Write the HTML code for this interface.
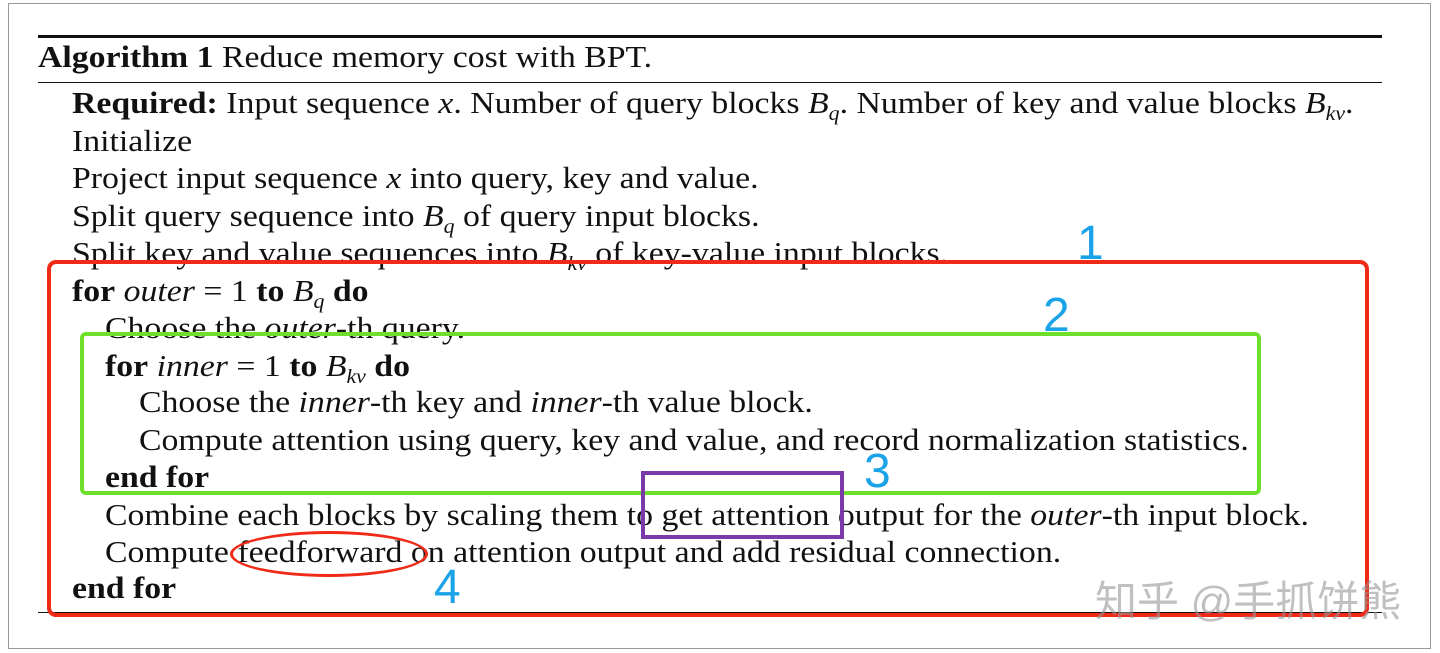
<!DOCTYPE html>
<html><head><meta charset="utf-8"><style>
body{margin:0;width:1440px;height:653px;background:#fff;position:relative;overflow:hidden;font-family:"Liberation Serif",serif;color:#111}
.l{position:absolute;font-size:31px;line-height:34px;white-space:nowrap;transform:scaleX(1.09);transform-origin:0 50%}
i{font-style:italic}
sub{font-size:20px}
.r{position:absolute;background:#111}
.n{position:absolute;color:#1aa3e8;font-family:"Liberation Sans",sans-serif;font-size:48px;line-height:48px}
.box{position:absolute;box-sizing:border-box}
</style></head><body>
<div class="box" style="left:8px;top:3px;width:1423px;height:646px;border:1px solid #999"></div>
<div class="r" style="left:38px;top:35px;width:1344px;height:3px"></div>
<div class="r" style="left:38px;top:82px;width:1344px;height:1px"></div>
<div class="r" style="left:38px;top:612px;width:1344px;height:1px"></div>
<div class="l" style="left:38px;top:40px"><b>Algorithm 1</b> Reduce memory cost with BPT.</div>
<div class="l" style="left:72px;top:86px"><b>Required:</b> Input sequence <i>x</i>. Number of query blocks <i>B<sub>q</sub></i>. Number of key and value blocks <i>B<sub>kv</sub></i>.</div>
<div class="l" style="left:72px;top:124px">Initialize</div>
<div class="l" style="left:72px;top:161px">Project input sequence <i>x</i> into query, key and value.</div>
<div class="l" style="left:72px;top:199px">Split query sequence into <i>B<sub>q</sub></i> of query input blocks.</div>
<div class="l" style="left:72px;top:236px">Split key and value sequences into <i>B<sub>kv</sub></i> of key-value input blocks.</div>
<div class="l" style="left:72px;top:274px"><b>for</b> <i>outer</i> = 1 <b>to</b> <i>B<sub>q</sub></i> <b>do</b></div>
<div class="l" style="left:105px;top:311px">Choose the <i>outer</i>-th query.</div>
<div class="l" style="left:105px;top:349px"><b>for</b> <i>inner</i> = 1 <b>to</b> <i>B<sub>kv</sub></i> <b>do</b></div>
<div class="l" style="left:139px;top:385px">Choose the <i>inner</i>-th key and <i>inner</i>-th value block.</div>
<div class="l" style="left:139px;top:423px">Compute attention using query, key and value, and record normalization statistics.</div>
<div class="l" style="left:105px;top:460px"><b>end for</b></div>
<div class="l" style="left:105px;top:498px">Combine each blocks by scaling them to get attention output for the <i>outer</i>-th input block.</div>
<div class="l" style="left:105px;top:535px">Compute feedforward on attention output and add residual connection.</div>
<div class="l" style="left:72px;top:571px"><b>end for</b></div>
<div class="box" style="left:47px;top:260px;width:1322px;height:357px;border:4px solid #f02a17;border-radius:9px"></div>
<div class="box" style="left:80px;top:332px;width:1181px;height:163px;border:4px solid #6fe02a;border-radius:6px"></div>
<div class="box" style="left:641px;top:471px;width:203px;height:68px;border:4px solid #7a3aa8"></div>
<div class="box" style="left:230px;top:531px;width:198px;height:46px;border:3px solid #f02a17;border-radius:50%"></div>
<div class="n" style="left:1077px;top:220px">1</div>
<div class="n" style="left:1043px;top:292px">2</div>
<div class="n" style="left:864px;top:448px">3</div>
<div class="n" style="left:434px;top:564px">4</div>
<div style="position:absolute;left:1095px;top:568px;font-family:'Liberation Sans','Noto Sans CJK SC',sans-serif;font-size:42px;color:rgba(150,150,150,0.6);white-space:nowrap">知乎 @手抓饼熊</div>
</body></html>
